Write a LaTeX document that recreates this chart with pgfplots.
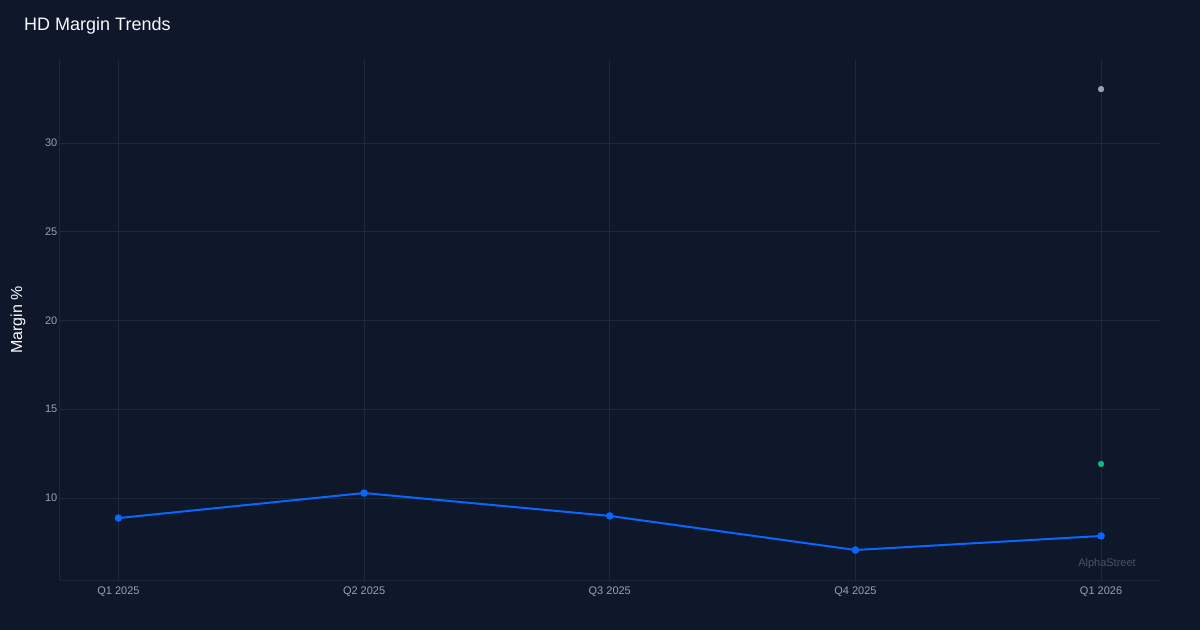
\documentclass[border=0pt]{standalone}
\usepackage{fontspec}
\setmainfont{Liberation Sans}
\usepackage{pgfplots}
\pgfplotsset{compat=1.18}

\definecolor{bg}{HTML}{0F172A}
\definecolor{gridc}{HTML}{1E293B}
\definecolor{tickc}{HTML}{94A3B8}
\definecolor{lineblue}{HTML}{0A66FF}
\definecolor{dotgreen}{HTML}{10B981}
\definecolor{dotgray}{HTML}{94A3B8}
\definecolor{wmark}{HTML}{475569}

\begin{document}
\begin{tikzpicture}[x=1pt,y=1pt]
\fill[bg] (0,0) rectangle (1200,630);
\path[use as bounding box] (0,0) rectangle (1200,630);

\node[anchor=base west, inner sep=0pt, text=white!94!tickc,
      font=\fontsize{18}{21}\selectfont] at (24,599) {HD Margin Trends};
\node[rotate=90, inner sep=0pt, text=white!96!tickc,
      font=\fontsize{16}{19}\selectfont] at (18,310) {Margin \%};

\begin{axis}[
    at={(59.5pt,50pt)}, anchor=south west,
    scale only axis,
    width=1100.5pt, height=520pt,
    xmin=-0.24, xmax=4.24,
    ymin=5.38, ymax=34.68,
    xtick={0,1,2,3,4},
    xticklabels={Q1 2025,Q2 2025,Q3 2025,Q4 2025,Q1 2026},
    ytick={10,15,20,25,30},
    /pgf/number format/assume math mode=true,
    axis x line*=bottom, axis y line*=left,
    axis line style={draw=gridc, line width=1pt, -},
    major tick length=0pt,
    xmajorgrids, ymajorgrids,
    grid style={draw=gridc, line width=0.8pt},
    tick label style={text=tickc, font=\fontsize{11}{13}\selectfont},
    yticklabel style={anchor=east, inner sep=0pt, xshift=-2pt},
    xticklabel style={anchor=north, inner sep=0pt, yshift=-6.5pt},
    clip=false,
]
\addplot[lineblue, line width=2pt, mark=*, mark size=2.7pt,
         mark options={fill=lineblue, draw=lineblue}]
    coordinates {
    (0, 8.87)
    (1, 10.28)
    (2, 8.99)
    (3, 7.07)
    (4, 7.86)
    };
\addplot[only marks, mark=*, mark size=2.9pt, dotgray] coordinates {(4, 33.04)};
\addplot[only marks, mark=*, mark size=2.9pt, dotgreen] coordinates {(4, 11.92)};
\end{axis}

\node[text=wmark, font=\fontsize{11}{13}\selectfont, inner sep=0pt] at (1107,66.5) {AlphaStreet};
\end{tikzpicture}
\end{document}
